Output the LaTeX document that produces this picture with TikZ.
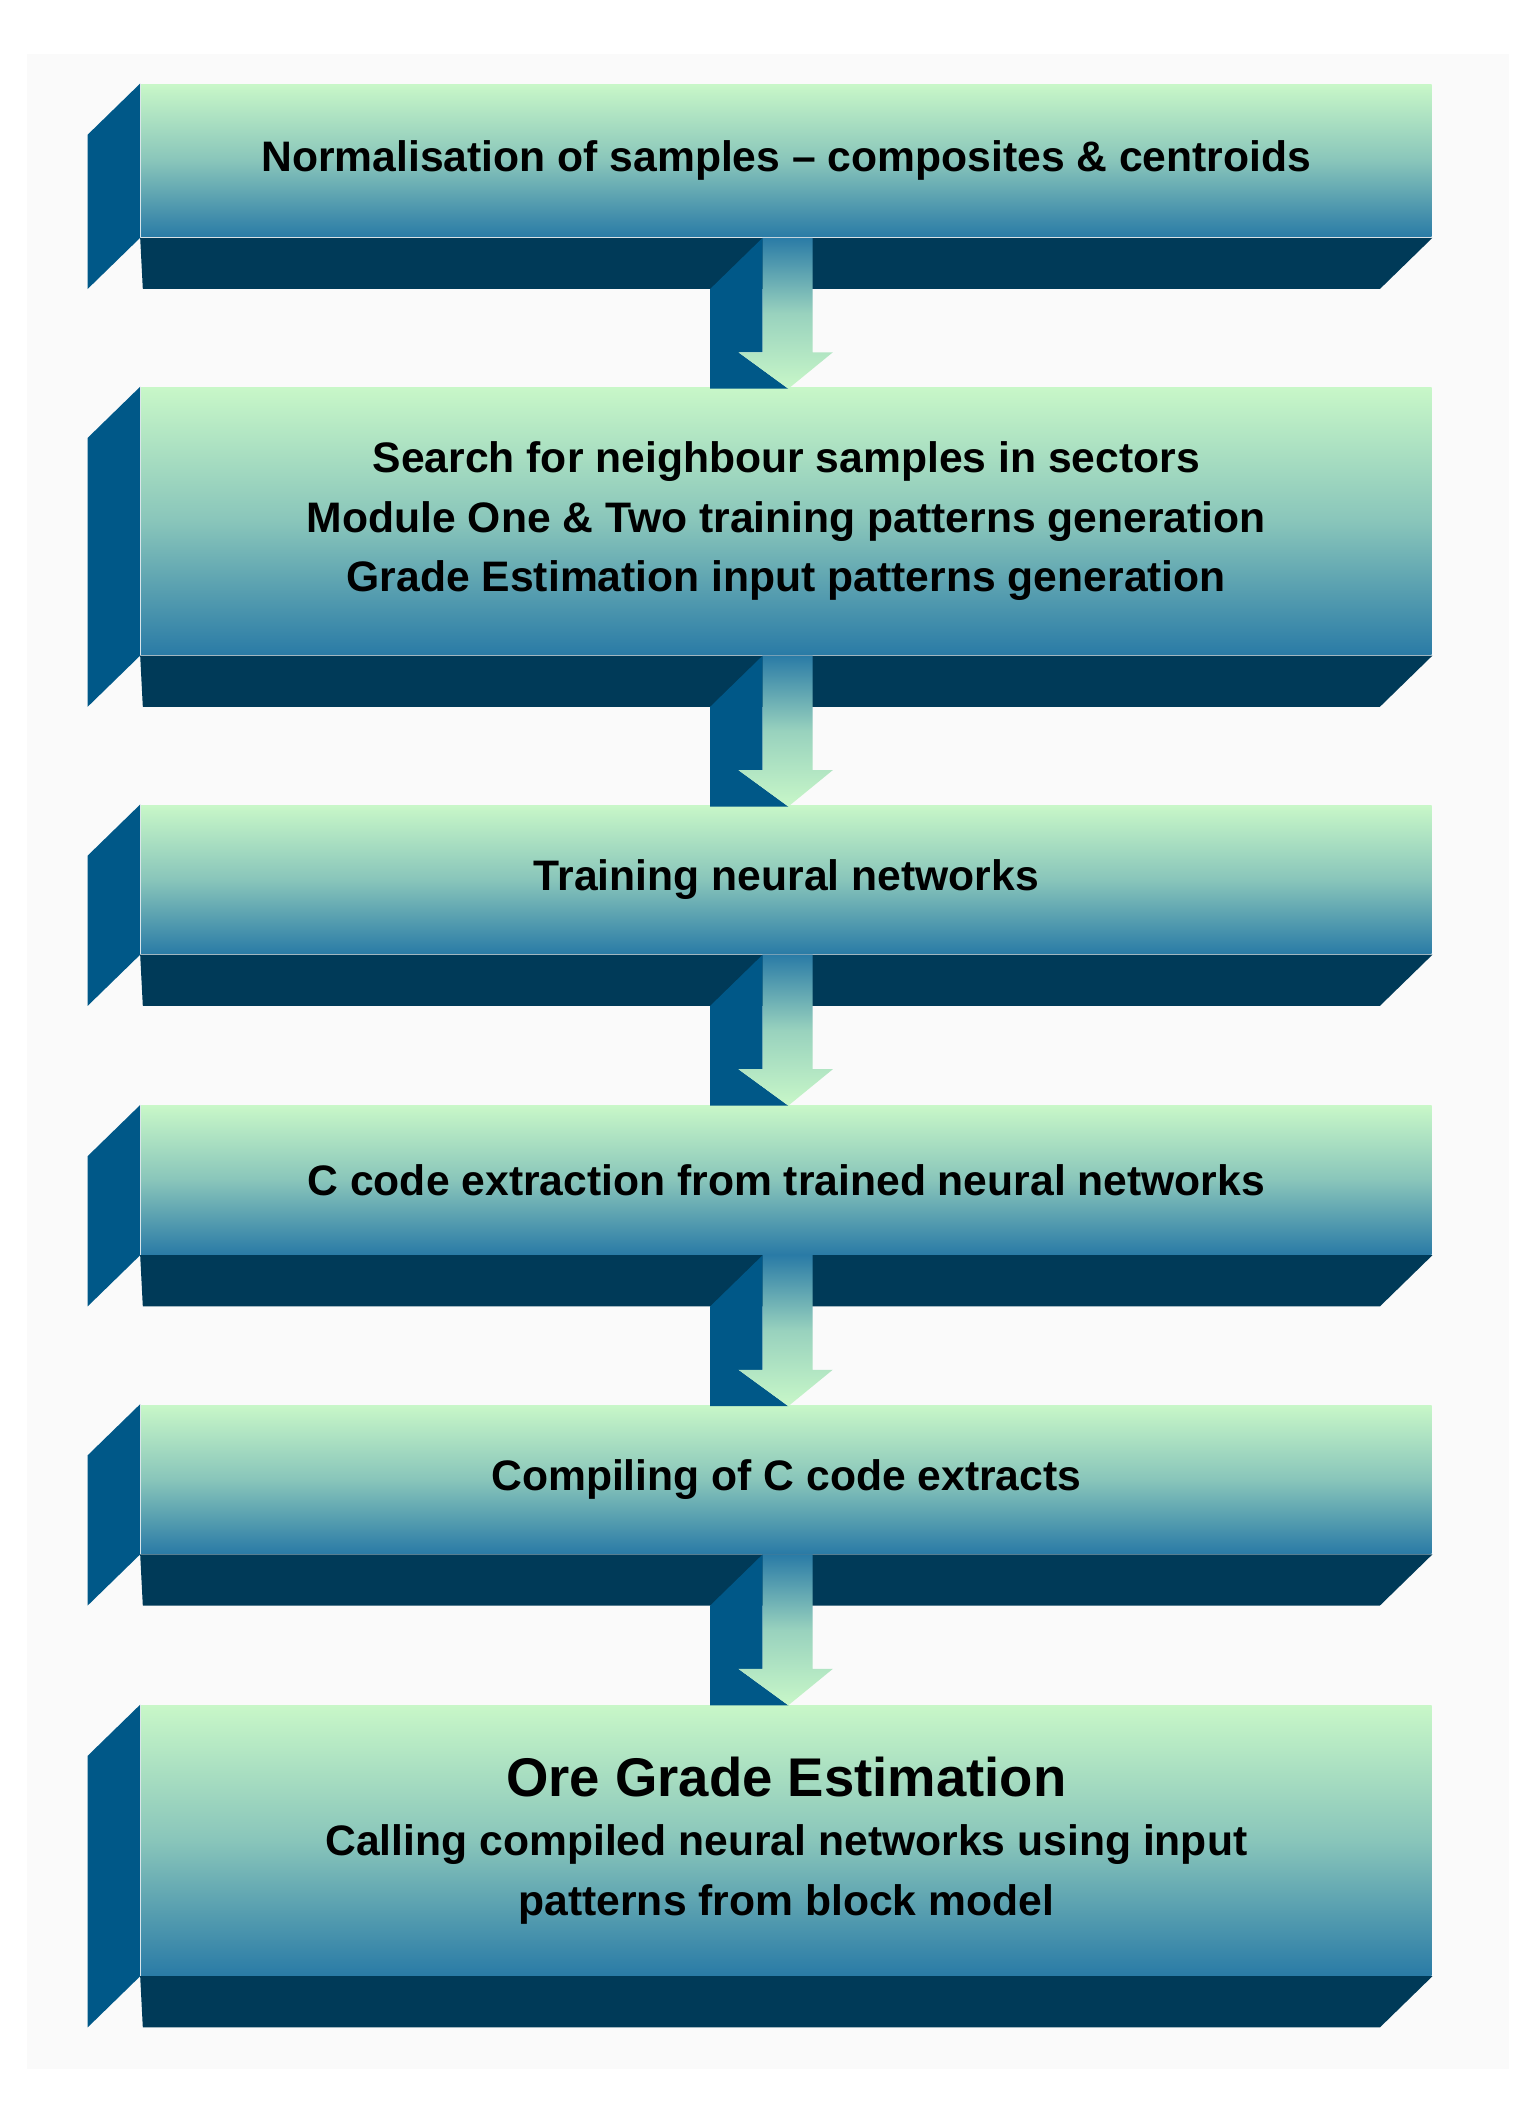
\documentclass[tikz,border=0pt]{standalone}
\usepackage{fontspec}
\setmainfont{Liberation Sans}
\definecolor{paleGreen}{HTML}{C8F7C8}
\definecolor{midBlue}{HTML}{2A7BA6}
\definecolor{sideBlue}{HTML}{005888}
\definecolor{darkBlue}{HTML}{003A58}
\tikzset{
  flowstep/.style={minimum width=9.57cm, inner sep=0pt, anchor=north, align=center,
    font=\bfseries\fontsize{9}{12.5}\selectfont,
    top color=paleGreen, bottom color=midBlue, middle color=paleGreen!60!midBlue},
  sideface/.style={fill=sideBlue},
  baseface/.style={fill=darkBlue},
}
\begin{document}
\begin{tikzpicture}[x=0.01cm, y=-0.01cm]
\useasboundingbox (0,0) rectangle (1140,1571);
\fill[black!2] (20,40) rectangle (1120,1535);

% flow steps
\node[flowstep, minimum height=1.13cm] (norm) at (583.5,62) {Normalisation of samples -- composites \& centroids};
\node[flowstep, minimum height=1.98cm] (search) at (583.5,287) {Search for neighbour samples in sectors\\Module One \& Two training patterns generation\\Grade Estimation input patterns generation};
\node[flowstep, minimum height=1.10cm] (train) at (583.5,597) {Training neural networks};
\node[flowstep, minimum height=1.10cm] (extract) at (583.5,820) {C code extraction from trained neural networks};
\node[flowstep, minimum height=1.10cm] (compile) at (583.5,1042) {Compiling of C code extracts};
\node[flowstep, minimum height=2.00cm] (ore) at (583.5,1265) {{\fontsize{11.5}{13}\selectfont Ore Grade Estimation}\\Calling compiled neural networks using input\\patterns from block model};

% side and bottom faces
\foreach \b in {norm,search,train,extract,compile,ore} {
  \fill[sideface] (\b.north west) -- ++(-39,38) -- ([xshift=-0.39cm,yshift=-0.38cm]\b.south west) -- (\b.south west) -- cycle;
  \fill[baseface] (\b.south west) -- (\b.south east) -- ++(-39,38) -- ++(-918,0) -- cycle;
}

% arrows between steps
\foreach \a/\b in {norm/search,search/train,train/extract,extract/compile,compile/ore} {
  \coordinate (s) at ([xshift=-0.175cm]\a.south);
  \fill[sideface] (s) -- ++(-39,38) -- ++(0,74) -- ++(58,0) -- ++(-37,-27) -- ++(18,0) -- cycle;
  \shade[top color=midBlue, bottom color=paleGreen, middle color=paleGreen!70!midBlue]
    (s) -- ++(37,0) -- ++(0,85) -- ++(15,0) -- ++(-33,27) -- ++(-37,-27) -- ++(18,0) -- cycle;
}
\end{tikzpicture}
\end{document}
